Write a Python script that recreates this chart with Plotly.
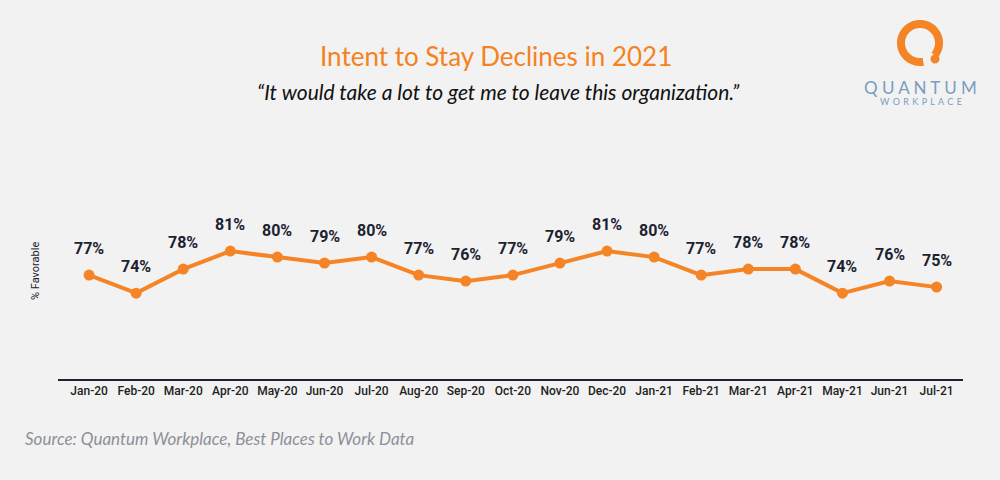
import numpy as np
import plotly.graph_objects as go

months = ["Jan-20", "Feb-20", "Mar-20", "Apr-20", "May-20", "Jun-20", "Jul-20", "Aug-20",
          "Sep-20", "Oct-20", "Nov-20", "Dec-20", "Jan-21", "Feb-21", "Mar-21", "Apr-21",
          "May-21", "Jun-21", "Jul-21"]
favorable = [77, 74, 78, 81, 80, 79, 80, 77, 76, 77, 79, 81, 80, 77, 78, 78, 74, 76, 75]

ORANGE = "#F58426"
NAVY = "#1B2230"
BG = "#F2F2F2"

W, H = 1000, 480
L, R, T, B = 58, 37, 137, 101
PW, PH = W - L - R, H - T - B


def px_x(px):
    return (px - L) / PW


def px_y(py):
    return (H - B - py) / PH


fig = go.Figure()
fig.add_trace(go.Scatter(
    x=months, y=favorable, mode="lines+markers",
    line=dict(color=ORANGE, width=4),
    marker=dict(color=ORANGE, size=11),
    hoverinfo="x+y", showlegend=False,
))

LABEL_FONT = "Roboto, sans-serif"
annotations = []
for m, v in zip(months, favorable):
    annotations.append(dict(
        x=m, y=v, xref="x", yref="y", text=f"{v}%", showarrow=False,
        xanchor="center", yanchor="middle",
        yshift=27, font=dict(family=LABEL_FONT, size=16, color=NAVY, weight="bold")))


def txt(px, py, text, size, color, family="Lato, Open Sans, sans-serif", xanchor="center", **kw):
    return dict(x=px_x(px), y=px_y(py), xref="paper", yref="paper", text=text, showarrow=False,
                xanchor=xanchor, yanchor="middle", font=dict(family=family, size=size, color=color), **kw)


annotations += [
    txt(496, 56, "Intent to Stay Declines in 2021", 26, "#F58220"),
    txt(498, 91, "<i>\u201cIt would take a lot to get me to leave this organization.\u201d</i>", 21, "#111111"),
    txt(35, 271, "% Favorable", 11, NAVY, family="Roboto, Arial, sans-serif", textangle=-90),
    txt(23, 438, "<i>Source: Quantum Workplace, Best Places to Work Data</i>", 17, "#8C9099", xanchor="left"),
    txt(920, 87, "Q U A N T U M", 17, "#7A9DC0"),
    txt(921, 101, " \u2009".join("WORKPLACE"), 9, "#7A9DC0"),
]

# logo ring
cx, cy, ro, ri = 920, 43, 23, 15
ang = np.linspace(np.radians(-40), np.radians(-80) + 2 * np.pi, 80)
outer = [(cx + ro * np.cos(a), cy - ro * np.sin(a)) for a in ang]
inner = [(cx + ri * np.cos(a), cy - ri * np.sin(a)) for a in ang[::-1]]
pts = outer + inner
path = "M " + " L ".join(f"{px_x(x):.5f},{px_y(y):.5f}" for x, y in pts) + " Z"
shapes = [
    dict(type="path", xref="paper", yref="paper", path=path, fillcolor=ORANGE, line=dict(width=0)),
    dict(type="circle", xref="paper", yref="paper",
         x0=px_x(935 - 4.5), x1=px_x(935 + 4.5), y0=px_y(59 + 4.5), y1=px_y(59 - 4.5),
         fillcolor=ORANGE, line=dict(width=0)),
]

fig.update_layout(
    width=W, height=H,
    margin=dict(l=L, r=R, t=T, b=B, pad=0),
    paper_bgcolor=BG, plot_bgcolor=BG,
    annotations=annotations, shapes=shapes,
    xaxis=dict(type="category", range=[-0.66, 18.56], showgrid=False, zeroline=False,
               showline=True, linecolor=NAVY, linewidth=2, ticks="", ticklen=0,
               tickfont=dict(family="Roboto, Arial, sans-serif", size=12, color="#222222", weight=500),
               fixedrange=True),
    yaxis=dict(range=[59.7, 100], showgrid=False, zeroline=False, showticklabels=False,
               showline=False, fixedrange=True),
)

fig.write_html("out.html", config={"displayModeBar": False},
               post_script="document.body.style.margin='0';document.body.style.overflow='hidden';")
